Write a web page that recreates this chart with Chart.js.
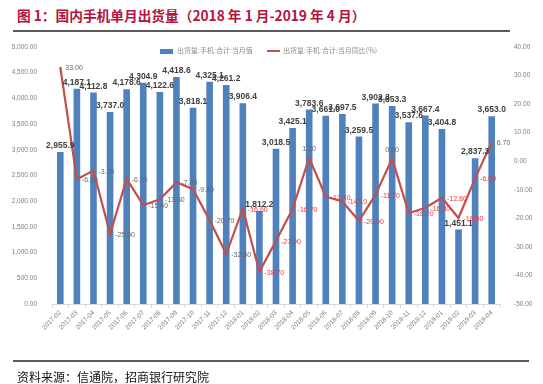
<!DOCTYPE html>
<html>
<head>
<meta charset="utf-8">
<script src="https://cdn.jsdelivr.net/npm/chart.js@4.4.1/dist/chart.umd.min.js"></script>
<style>
  html, body { margin: 0; padding: 0; background: #fff; }
  #wrap { position: relative; width: 543px; height: 384px; overflow: hidden; font-family: "Noto Sans CJK SC", sans-serif; }
  #chart { position: absolute; left: 0; top: 0; }
  #title { position: absolute; left: 17px; top: 5px; font-size: 13.7px; font-weight: bold; color: #b5123e; white-space: nowrap; }
  .rule { position: absolute; left: 13px; height: 0; border-top: 2px solid #595959; }
  #source { position: absolute; left: 17px; top: 368px; font-size: 12px; color: #111; white-space: nowrap; }
  .leg { position: absolute; top: 45px; font-size: 7px; color: #8c8c8c; white-space: nowrap; }
  .swatch { position: absolute; }
</style>
</head>
<body>
<div id="wrap">
  <div id="title">图 1：国内手机单月出货量（2018 年 1 月-2019 年 4 月）</div>
  <div class="rule" style="top:30px;width:497px;"></div>
  <canvas id="chart" width="543" height="384"></canvas>
  <div class="swatch" style="left:160px;top:49px;width:13px;height:5px;background:#4f81bd;"></div>
  <div class="leg" style="left:177px;">出货量:手机:合计:当月值</div>
  <div class="swatch" style="left:267px;top:50px;width:13px;height:2px;background:#c0504d;"></div>
  <div class="leg" style="left:283px;">出货量:手机:合计:当月同比(%)</div>
  <div class="rule" style="top:360px;width:516px;"></div>
  <div id="source">资料来源：信通院，招商银行研究院</div>
</div>
<script>
// months
const months = ['2017-02','2017-03','2017-04','2017-05','2017-06','2017-07','2017-08','2017-09','2017-10','2017-11','2017-12',
  '2018-01','2018-02','2018-03','2018-04','2018-05','2018-06','2018-07','2018-08','2018-09','2018-10','2018-11','2018-12',
  '2019-01','2019-02','2019-03','2019-04'];
// shipments, 10k units
const shipments = [2955.9, 4187.1, 4112.8, 3737.0, 4178.6, 4304.9, 4122.6, 4418.6, 3818.1, 4325.1, 4261.2,
  3906.4, 1812.2, 3018.5, 3425.1, 3783.6, 3661.0, 3697.5, 3259.5, 3902.3, 3853.3, 3537.6, 3667.4,
  3404.8, 1451.1, 2837.3, 3653.0];
// year on year, %
const yoyPct = [33.0, -6.3, -3.3, -25.5, -6.2, -15.4, -13.3, -7.4, -9.8, -20.7, -32.5,
  -16.6, -38.7, -27.9, -16.7, 1.2, -12.4, -14.1, -20.9, -11.7, 0.9, -18.2, -16.3,
  -12.8, -19.9, -6.0, 6.7];
const leftTicks = [0, 5000, 500];
const rightTicks = [-50, 40, 10];

const fmt = (v, d) => v.toLocaleString('en-US', { minimumFractionDigits: d, maximumFractionDigits: d });

const labelPlugin = {
  id: 'valueLabels',
  afterDatasetsDraw(chart) {
    const ctx = chart.ctx;
    ctx.save();
    // bar labels
    const bars = chart.getDatasetMeta(0).data;
    ctx.font = 'bold 8.5px "Liberation Sans", Arial, sans-serif';
    ctx.fillStyle = '#404040';
    ctx.textAlign = 'center';
    ctx.textBaseline = 'bottom';
    bars.forEach((b, i) => ctx.fillText(fmt(shipments[i], 1), b.x, b.y - 2));
    // line labels
    const pts = chart.getDatasetMeta(1).data;
    ctx.font = '7px "Liberation Sans", Arial, sans-serif';
    pts.forEach((p, i) => {
      const v = yoyPct[i];
      ctx.fillStyle = (i >= 11 && v < 0) ? '#ff3030' : '#666666';
      if (v > 0 && v < 2) {
        ctx.textAlign = 'center';
        ctx.textBaseline = 'bottom';
        ctx.fillText(fmt(v, 2), p.x, p.y - 5);
      } else {
        ctx.textAlign = 'left';
        ctx.textBaseline = 'middle';
        ctx.fillText(fmt(v, 2), p.x + 5, p.y + 1);
      }
    });
    ctx.restore();
  }
};

new Chart(document.getElementById('chart'), {
  type: 'bar',
  data: {
    labels: months,
    datasets: [{
      type: 'bar',
      label: '出货量:手机:合计:当月值',
      data: shipments,
      backgroundColor: '#4f81bd',
      categoryPercentage: 1,
      barPercentage: 0.4,
      yAxisID: 'y',
      order: 2
    }, {
      type: 'line',
      label: '出货量:手机:合计:当月同比(%)',
      data: yoyPct,
      borderColor: '#c0504d',
      borderWidth: 2.2,
      pointRadius: 0,
      tension: 0,
      yAxisID: 'y1',
      order: 1
    }]
  },
  options: {
    responsive: false,
    animation: false,
    layout: { padding: { top: 47, bottom: 0, left: 0, right: 0 } },
    plugins: { legend: { display: false }, tooltip: { enabled: false } },
    scales: {
      x: {
        offset: true,
        grid: { display: true, drawOnChartArea: false, drawTicks: true, tickLength: 4, offset: true, color: '#d9d9d9' },
        border: { display: true, color: '#d9d9d9' },
        ticks: { minRotation: 45, maxRotation: 45, autoSkip: false, padding: 1, color: '#7f7f7f',
          font: { size: 6.5, family: '"Liberation Sans", Arial, sans-serif' } },
        afterFit(s) { s.height = 80; }
      },
      y: {
        position: 'left',
        min: leftTicks[0], max: leftTicks[1],
        grid: { display: false },
        border: { display: false },
        ticks: { stepSize: leftTicks[2], padding: 7, color: '#7f7f7f',
          font: { size: 6.5, family: '"Liberation Sans", Arial, sans-serif' },
          callback: v => fmt(v, 2) },
        afterFit(s) { s.width = 52; }
      },
      y1: {
        position: 'right',
        min: rightTicks[0], max: rightTicks[1],
        grid: { display: false },
        border: { display: false },
        ticks: { stepSize: rightTicks[2], padding: 6, color: '#7f7f7f',
          font: { size: 6.5, family: '"Liberation Sans", Arial, sans-serif' },
          callback: v => fmt(v, 2) },
        afterFit(s) { s.width = 43; }
      }
    }
  },
  plugins: [labelPlugin]
});
</script>
</body>
</html>
